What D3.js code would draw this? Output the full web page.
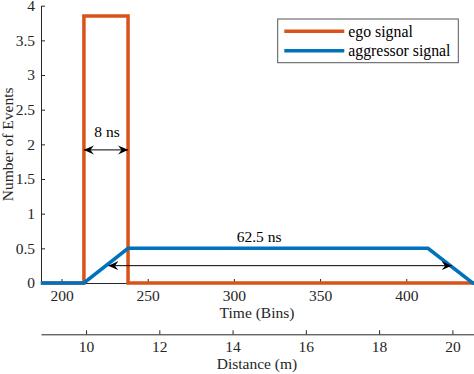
<!DOCTYPE html>
<html>
<head>
<meta charset="utf-8">
<script src="https://cdn.jsdelivr.net/npm/d3@7"></script>
<style>
  body { margin: 0; background: #fff; }
  svg text { font-family: "Liberation Serif", "Times New Roman", serif !important; }
</style>
</head>
<body>
<div id="chart"></div>
<script>
// Data (x in time bins, y in number of events)
const egoBins = [188, 213, 213, 238.6, 238.6, 440];
const egoCounts = [0, 0, 3.85, 3.85, 0, 0];
const aggBins = [188, 213, 238.6, 412.6, 438.5, 440];
const aggCounts = [0, 0, 0.5, 0.5, 0, 0];
const timeTicks = [200, 250, 300, 350, 400];
const countTicks = [0, 0.5, 1, 1.5, 2, 2.5, 3, 3.5, 4];
const distTicks = [10, 12, 14, 16, 18, 20];
const seriesNames = ["ego signal", "aggressor signal"];
const seriesColors = ["#D95319", "#0072BD"];

const width = 474, height = 374;
const svg = d3.select("#chart").append("svg")
  .attr("width", width).attr("height", height);

// Scales
const x = d3.scaleLinear().domain([188.1, 439.3]).range([41, 474]);
const y = d3.scaleLinear().domain([0, 4]).range([283, 5.7]);
const xDist = d3.scaleLinear().domain([8.77, 20.59]).range([41, 474]);
const fmt = d3.format("~g");

// Axes (ticks pointing inward, MATLAB style)
const gx = svg.append("g").attr("transform", `translate(0,${y(0)})`)
  .call(d3.axisBottom(x).tickValues(timeTicks).tickFormat(fmt).tickSizeInner(-4).tickSizeOuter(0).tickPadding(7));
const gy = svg.append("g").attr("transform", `translate(${x.range()[0]},0)`)
  .call(d3.axisLeft(y).tickValues(countTicks).tickFormat(fmt).tickSizeInner(-4).tickSizeOuter(0).tickPadding(6));
const gd = svg.append("g").attr("transform", "translate(0,334.3)")
  .call(d3.axisBottom(xDist).tickValues(distTicks).tickFormat(fmt).tickSizeInner(-4).tickSizeOuter(0).tickPadding(7));

[gx, gy, gd].forEach(g => {
  g.attr("font-family", null).attr("font-size", null);
  g.selectAll("path, line").attr("stroke", "#262626").attr("stroke-width", 1);
  g.selectAll("text").style("font-size", "15.5px").attr("fill", "#262626");
});

// Axis labels
svg.append("text").attr("x", 257).attr("y", 318).attr("text-anchor", "middle")
  .style("font-size", "15.5px").attr("fill", "#262626").text("Time (Bins)");
svg.append("text").attr("x", 257).attr("y", 369).attr("text-anchor", "middle")
  .style("font-size", "15.5px").attr("fill", "#262626").text("Distance (m)");
svg.append("text").attr("transform", `translate(13,${y(2)}) rotate(-90)`)
  .attr("text-anchor", "middle").style("font-size", "15.5px").attr("fill", "#262626").text("Number of Events");

// Signal lines
const line = d3.line().x(d => x(d[0])).y(d => y(d[1]));
const ego = d3.zip(egoBins, egoCounts);
const agg = d3.zip(aggBins, aggCounts);

svg.append("path").datum(ego).attr("d", line)
  .attr("fill", "none").attr("stroke", seriesColors[0]).attr("stroke-width", 3.5);
svg.append("path").datum(agg).attr("d", line)
  .attr("fill", "none").attr("stroke", seriesColors[1]).attr("stroke-width", 3.5);

// Double-headed arrow annotations
const defs = svg.append("defs");
function head(id, orient) {
  defs.append("marker").attr("id", id)
    .attr("viewBox", "-10 -5 10 10").attr("refX", 0).attr("refY", 0)
    .attr("markerWidth", 10).attr("markerHeight", 10)
    .attr("markerUnits", "userSpaceOnUse").attr("orient", orient)
    .append("path").attr("d", "M0,0 L-10,-4.5 L-6.5,0 L-10,4.5 Z").attr("fill", "#000");
}
head("arrowEnd", "auto");
head("arrowStart", "auto-start-reverse");

const spans = [
  { from: 213, to: 238.6, level: 1.92, label: "8 ns", labelX: 226.4, labelY: 2.19 },
  { from: 227.2, to: 426.3, level: 0.25, label: "62.5 ns", labelX: 314.6, labelY: 0.67 }
];
spans.forEach(s => {
  svg.append("line")
    .attr("x1", x(s.from)).attr("x2", x(s.to))
    .attr("y1", y(s.level)).attr("y2", y(s.level))
    .attr("stroke", "#000").attr("stroke-width", 1)
    .attr("marker-start", "url(#arrowStart)").attr("marker-end", "url(#arrowEnd)");
  svg.append("text").attr("x", x(s.labelX)).attr("y", y(s.labelY))
    .attr("text-anchor", "middle").attr("dominant-baseline", "central")
    .style("font-size", "15.5px").attr("fill", "#000").text(s.label);
});

// Legend
const legend = svg.append("g");
legend.append("rect").attr("x", 277.7).attr("y", 19).attr("width", 180.6).attr("height", 43.7)
  .attr("fill", "#fff").attr("stroke", "#555").attr("stroke-width", 1);
seriesNames.forEach((name, i) => {
  const ly = 31.3 + i * 19.4;
  legend.append("line").attr("x1", 284.3).attr("x2", 344.3).attr("y1", ly).attr("y2", ly)
    .attr("stroke", seriesColors[i]).attr("stroke-width", 3.5);
  legend.append("text").attr("x", 348.3).attr("y", ly).attr("dominant-baseline", "central")
    .style("font-size", "15.8px").attr("fill", "#000").text(name);
});
</script>
</body>
</html>
